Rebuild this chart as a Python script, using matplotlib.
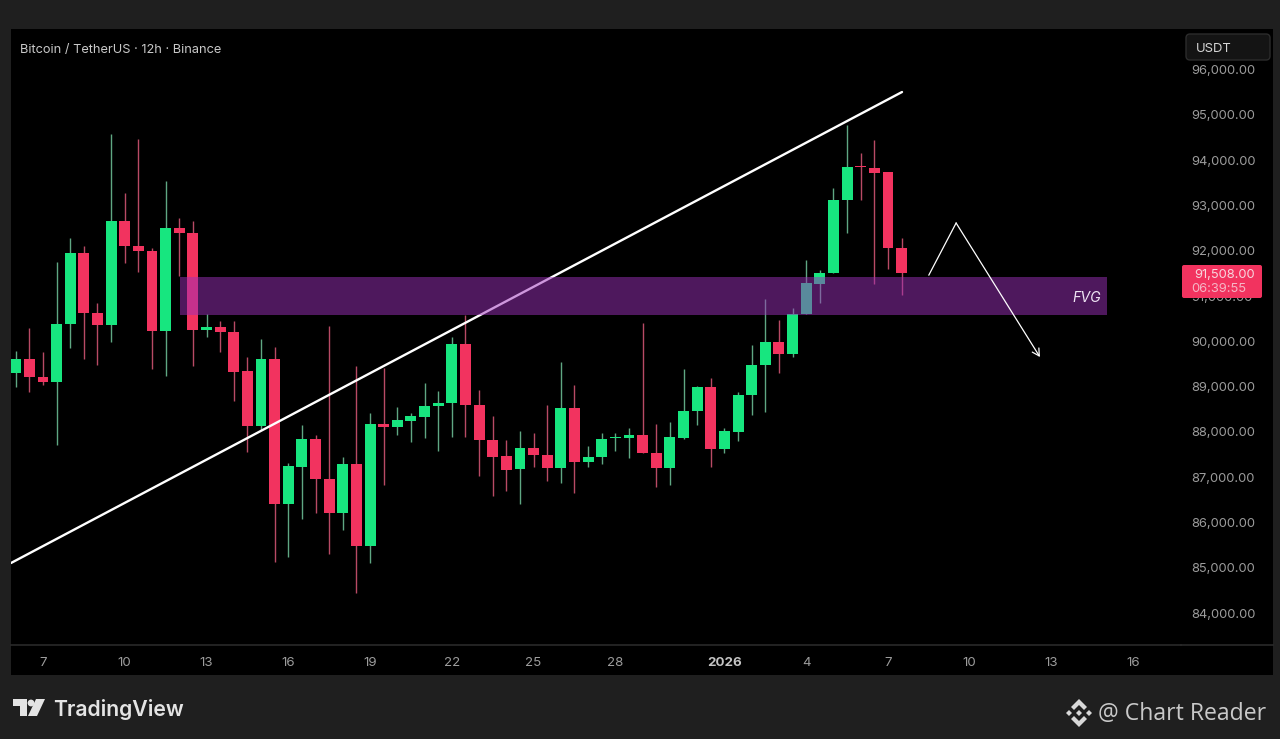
import matplotlib
matplotlib.use("Agg")
import matplotlib.pyplot as plt
from matplotlib.patches import Rectangle, FancyBboxPatch, Polygon, Circle

plt.rcParams['font.family'] = ['Inter', 'DejaVu Sans']

# 12h candles
opens = [89310, 89620, 89220, 89108, 90382, 91949, 90618, 90360, 92662, 92104, 91993,
         90221, 92494, 92397, 90249, 90309, 90212, 89344, 88137, 89616, 86402, 87232,
         87843, 86960, 86210, 87291, 85481, 88174, 88108, 88247, 88335, 88572, 88631,
         89934, 88600, 87828, 87468, 87174, 87644, 87496, 87196, 88521, 87335, 87446,
         87859, 87859, 87931, 87541, 87210, 87865, 88468, 88997, 87622, 88004, 88814,
         89477, 89978, 89719, 90602, 91271, 91501, 93119, 93863, 93825, 93730, 92066]
highs = [89792, 90287, 89770, 91744, 92273, 92104, 90839, 94576, 93280, 94466, 92053,
         93538, 92728, 92655, 90602, 90454, 90454, 89647, 90044, 89867, 87313, 88152,
         87931, 90344, 87439, 89454, 88424, 89404, 88556, 88424, 89073, 88903, 90101,
         90580, 88925, 88351, 87821, 88026, 87969, 88594, 89550, 89028, 87689, 87969,
         87982, 88079, 90397, 88174, 88218, 89388, 89013, 89183, 88079, 88887, 89918,
         90934, 90470, 90728, 91794, 91574, 93377, 94775, 94150, 94443, 93737, 92273]
lows = [88998, 88887, 89035, 87711, 89845, 89602, 89477, 89991, 91735, 91536, 89382,
        89240, 91441, 89454, 90101, 89770, 88682, 87563, 88042, 85134, 85245, 86077,
        86203, 85298, 85834, 84437, 85099, 86828, 87931, 87770, 87859, 87585, 87880,
        87894, 87026, 86591, 86695, 86402, 87232, 86916, 86865, 86644, 87232, 87291,
        87585, 87417, 87534, 86790, 86828, 87836, 88152, 87232, 87527, 87799, 88373,
        88446, 89293, 89647, 90602, 90852, 91501, 92384, 93119, 91258, 91589, 91022]
closes = [89620, 89220, 89108, 90382, 91949, 90618, 90360, 92662, 92097, 91993, 90221,
          92494, 92391, 90249, 90309, 90212, 89329, 88137, 89616, 86402, 87240, 87843,
          86953, 86210, 87291, 85481, 88174, 88108, 88256, 88351, 88578, 88644, 89934,
          88594, 87821, 87452, 87165, 87644, 87490, 87196, 88521, 87335, 87446, 87850,
          87887, 87938, 87534, 87203, 87880, 88468, 88997, 87622, 88013, 88814, 89477,
          89978, 89719, 90602, 91287, 91508, 93119, 93847, 93841, 93722, 92066, 91508]

price_ticks = [84000, 85000, 86000, 87000, 88000, 89000, 90000, 91000,
               92000, 93000, 94000, 95000, 96000]
date_pos = [2, 8, 14, 20, 26, 32, 38, 44, 52, 58, 64, 70, 76, 82]
date_labels = ['7', '10', '13', '16', '19', '22', '25', '28', '2026', '4', '7', '10', '13', '16']

trend_x = [-0.345, 65.03]
trend_y = [85106, 95503]
fvg_x = [12.06, 80.07]
fvg_y = [90580, 91419]
arrow_x = [67.0, 69.0, 75.15]
arrow_y = [91463, 92611, 89653]

GREEN = '#17E67F'
RED = '#F2335F'
GREEN_WICK = '#5FA783'
RED_WICK = '#B84A65'
GREY = '#9C9C9C'

fig = plt.figure(figsize=(12.8, 7.39), dpi=100, facecolor='#1F1F1F')


def frac(x0, y0, x1, y1):
    # pixel box to figure fractions
    return [x0 / 1280, 1 - y1 / 739, (x1 - x0) / 1280, (y1 - y0) / 739]


back = fig.add_axes(frac(11, 29, 1273, 675), zorder=0)
back.set_facecolor('black')
back.set_xticks([])
back.set_yticks([])
for s in back.spines.values():
    s.set_visible(False)

ax = fig.add_axes(frac(11, 29, 1181, 645), zorder=1)
ax.patch.set_alpha(0)
ax.set_xlim(-0.345, 85.5)
ax.set_ylim(83296, 96894)

idx = list(range(len(opens)))
wick_cols = [GREEN_WICK if c >= o else RED_WICK for o, c in zip(opens, closes)]
body_cols = [GREEN if c >= o else RED for o, c in zip(opens, closes)]
ax.vlines(idx, lows, highs, colors=wick_cols, linewidth=1.0, zorder=2)
ax.bar(idx, [abs(c - o) for o, c in zip(opens, closes)],
       bottom=[min(o, c) for o, c in zip(opens, closes)],
       width=0.8, color=body_cols, linewidth=0, zorder=3)

ax.plot(trend_x, trend_y, color='white', lw=1.7, solid_capstyle='round', zorder=4)
ax.add_patch(Rectangle((fvg_x[0], fvg_y[0]), fvg_x[1] - fvg_x[0], fvg_y[1] - fvg_y[0],
                       facecolor='#9C30BA', alpha=0.5, linewidth=0, zorder=5))
ax.plot(arrow_x[:2], arrow_y[:2], color='white', lw=0.9, zorder=6)
ax.annotate('', xy=(arrow_x[2], arrow_y[2]), xytext=(arrow_x[1], arrow_y[1]),
            arrowprops=dict(arrowstyle='->,head_length=0.5,head_width=0.28', color='white',
                            lw=0.9, shrinkA=0, shrinkB=0), zorder=6)
ax.text(79.62, 90955, 'FVG', color='#F0E6F5', style='italic', fontsize=10.2,
        ha='right', va='center', zorder=7)

ax.yaxis.tick_right()
ax.set_yticks(price_ticks)
ax.set_yticklabels([f'{p:,.2f}' for p in price_ticks])
ax.tick_params(axis='y', length=0, pad=7.5, labelcolor=GREY, labelsize=9.3)
ax.set_xticks(date_pos)
ax.set_xticklabels(date_labels)
ax.tick_params(axis='x', length=0, pad=9, labelcolor=GREY, labelsize=9.6)
for lab in ax.get_xticklabels():
    if lab.get_text() == '2026':
        lab.set_fontweight('bold')
        lab.set_color('#C4C4C4')
for s in ax.spines.values():
    s.set_visible(False)
ax.spines['bottom'].set_visible(True)
ax.spines['bottom'].set_color('#2A2A2A')
ax.spines['bottom'].set_linewidth(1.2)

# everything outside the price scale, in pixel coordinates
ov = fig.add_axes([0, 0, 1, 1], zorder=2)
ov.set_xlim(0, 1280)
ov.set_ylim(739, 0)
ov.axis('off')

ov.plot([1181, 1273], [645, 645], color='#2A2A2A', lw=1.2)
ov.text(20, 49.5, 'Bitcoin / TetherUS · 12h · Binance', color='#C8C8C8', fontsize=9.2, va='center')

ov.add_patch(FancyBboxPatch((1186, 34), 84, 26, boxstyle='round,pad=0,rounding_size=4',
                            facecolor='#141414', edgecolor='#2C2C2C', lw=1))
ov.text(1196, 48.5, 'USDT', color='#D6D6D6', fontsize=9.4, va='center')

ov.add_patch(FancyBboxPatch((1182, 265), 80, 33, boxstyle='round,pad=0,rounding_size=2',
                            facecolor=RED, edgecolor='none'))
ov.text(1255, 274.5, '91,508.00', color='#F7D5DD', fontsize=9.3, ha='right', va='center')
ov.text(1191.5, 289.5, '06:39:55', color='#F5B5C5', fontsize=9.3, ha='left', va='center')

# TradingView mark
logo = '#E4E4E4'
ov.add_patch(Polygon([(13, 699), (27, 699), (27, 716), (20, 716), (20, 706), (13, 706)],
                     facecolor=logo, edgecolor='none'))
ov.add_patch(Circle((31, 703), 3.4, facecolor=logo, edgecolor='none'))
ov.add_patch(Polygon([(36, 699), (45, 699), (37, 716), (28, 716)], facecolor=logo, edgecolor='none'))
ov.text(53, 709, 'TradingView', color=logo, fontsize=15.3, fontweight='semibold', va='center')

# Binance mark
bn = '#D8D8D8'


def diamond(cx, cy, r):
    ov.add_patch(Polygon([(cx - r, cy), (cx, cy - r), (cx + r, cy), (cx, cy + r)],
                         facecolor=bn, edgecolor='none'))


diamond(1079, 713, 3)
diamond(1069, 713, 3)
diamond(1089, 713, 3)
ov.add_patch(Polygon([(1079, 699), (1087, 707), (1084, 710), (1079, 705), (1074, 710), (1071, 707)],
                     facecolor=bn, edgecolor='none'))
ov.add_patch(Polygon([(1079, 727), (1087, 719), (1084, 716), (1079, 721), (1074, 716), (1071, 719)],
                     facecolor=bn, edgecolor='none'))
ov.text(1098, 714.5, '@ Chart Reader', color='#C9C9C9', fontsize=16.6, va='center',
        family=['Open Sans', 'DejaVu Sans'])

fig.savefig('out.png', dpi=100, facecolor=fig.get_facecolor())
